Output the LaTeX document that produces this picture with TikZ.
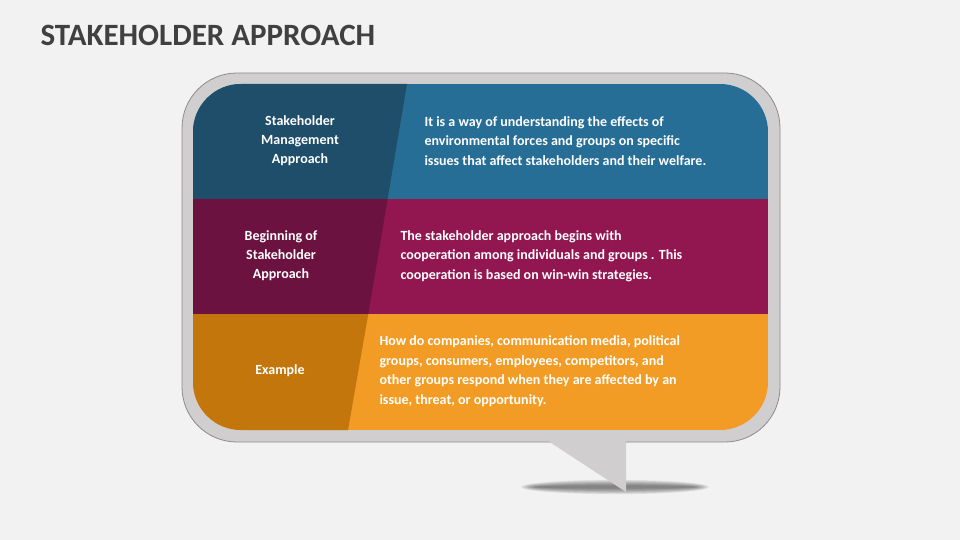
\documentclass[tikz,border=0pt]{standalone}
\usepackage{fontspec}
\setmainfont{Carlito}
\definecolor{bg}{HTML}{F2F2F2}
\definecolor{bub}{HTML}{D0CECF}
\definecolor{bubline}{HTML}{8C8C8C}
\definecolor{bD}{HTML}{1F4E6B}\definecolor{bL}{HTML}{276E96}
\definecolor{mD}{HTML}{6C1240}\definecolor{mL}{HTML}{921650}
\definecolor{oD}{HTML}{C2760C}\definecolor{oL}{HTML}{F39C25}
\definecolor{ttl}{HTML}{404040}
\usetikzlibrary{shadows.blur}
\begin{document}
\begin{tikzpicture}[x=1pt,y=-1pt,
 lbl/.style={text=white,font=\bfseries\fontsize{14}{19}\selectfont,align=center},
 txt/.style={text=white,font=\bfseries\fontsize{14}{19.5}\selectfont,align=left,anchor=west}]
\fill[bg] (0,0) rectangle (960,540);
\useasboundingbox (0,0) rectangle (960,540);
\node[anchor=west,text=ttl,font=\bfseries\fontsize{31}{36}\selectfont] (title) at (37,35) {STAKEHOLDER APPROACH};
% shadow
\foreach \i in {1,...,8}{\fill[black,opacity=0.07] (615,487) ellipse ({96-2*\i} and {8-0.8*\i});}
% bubble
\fill[bub,draw=bubline,line width=0.8pt,rounded corners=55] (182,73) rectangle (780,442);
\fill[bub] (542,437) -- (626,437) -- (626,492) -- cycle;
\begin{scope}
\clip[rounded corners=48] (193,84) rectangle (768,430);
\fill[bL] (193,84) rectangle (768,199);
\fill[mL] (193,199) rectangle (768,314);
\fill[oL] (193,314) rectangle (768,430);
\fill[bD] (193,84) -- (407,84) -- (387.6,199) -- (193,199) -- cycle;
\fill[mD] (193,199) -- (387.6,199) -- (368.3,314) -- (193,314) -- cycle;
\fill[oD] (193,314) -- (368.3,314) -- (348,430) -- (193,430) -- cycle;
\end{scope}
\node[lbl] (l1) at (300,141) {Stakeholder\\Management\\Approach};
\node[lbl] (l2) at (281,256) {Beginning of\\Stakeholder\\Approach};
\node[lbl] (l3) at (280,371) {Example};
\node[txt] (t1) at (421,141) {It is a way of understanding the effects of\\environmental forces and groups on specific\\issues that affect stakeholders and their welfare.};
\node[txt] (t2) at (397,256) {The stakeholder approach begins with\\cooperation among individuals and groups . This\\cooperation is based on win-win strategies.};
\node[txt] (t3) at (376,371) {How do companies, communication media, political\\groups, consumers, employees, competitors, and\\other groups respond when they are affected by an\\issue, threat, or opportunity.};
\end{tikzpicture}
\end{document}
